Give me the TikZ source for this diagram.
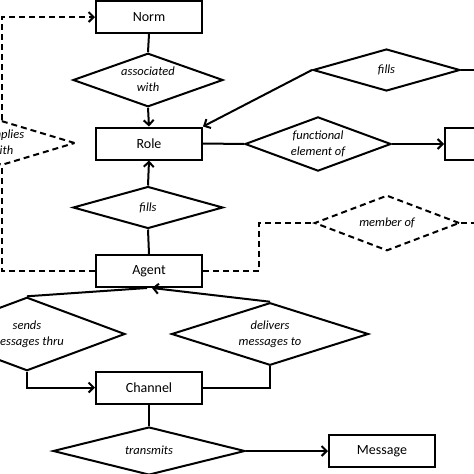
\documentclass[tikz,border=0pt]{standalone}
\usepackage{fontspec}
\setmainfont{Carlito}
\usetikzlibrary{shapes.geometric,arrows.meta}
\newcommand{\reltext}[1]{\smash{\raisebox{-3.5pt}{\begin{tabular}{@{}c@{}}#1\end{tabular}}}}
\begin{document}
\begin{tikzpicture}[x=1pt,y=-1pt,line width=2pt,
  entity/.style={draw,rectangle,minimum width=106,minimum height=32,inner sep=0pt,font=\fontsize{14}{16}\selectfont},
  relation/.style={draw,diamond,inner sep=0pt,minimum height=42,font=\fontsize{12.5}{16}\selectfont\itshape},
  link/.style={dash pattern=on 6pt off 4pt},
  arr/.style={-{Straight Barb[length=5pt,width=10pt]}}]
\useasboundingbox (0,0) rectangle (474,474);
\node[entity] (norm) at (149,17) {Norm};
\node[entity] (role) at (149,143.5) {Role};
\node[entity] (agent) at (149,271) {Agent};
\node[entity] (channel) at (149,387.5) {Channel};
\node[entity] (message) at (382,451) {Message};
\node[entity] (group) at (498,144) {};
\node[relation,minimum width=150] (assoc) at (148,80) {\reltext{associated\\with}};
\node[relation,minimum width=150] (fillsrole) at (148,207.5) {\reltext{fills}};
\node[relation,minimum width=147] (fillsgroup) at (386.5,70) {\reltext{fills}};
\node[relation,minimum width=146] (funcel) at (318,144) {\reltext{functional\\element of}};
\node[relation,link,minimum width=145] (member) at (387,223) {\reltext{member of}};
\node[relation,link,minimum width=146] (complies) at (2,143) {\reltext{complies\\with}};
\node[relation,minimum width=196] (sends) at (27,334) {\reltext{sends\\messages thru}};
\node[relation,minimum width=197] (delivers) at (270,334) {\reltext{delivers\\messages to}};
\node[relation,minimum width=192] (transmits) at (149,451) {\reltext{transmits}};
\draw (norm.south) -- (assoc.north);
\draw[arr] (assoc.south) -- (role.north);
\draw[arr] (fillsrole.north) -- (role.south);
\draw (fillsrole.south) -- (agent.north);
\draw[arr] (fillsgroup.west) -- (role.north east);
\draw (fillsgroup.east) -| (group.north);
\draw (role.east) -- (funcel.west);
\draw[arr] (funcel.east) -- (group.west);
\draw[link] (agent.east) -- ++(56,0) |- (member.west);
\draw[link] (member.east) -| (group.south);
\draw[link] (agent.west) -| (complies.south);
\draw[link,arr] (complies.north) |- (norm.west);
\draw (sends.north) -- ([xshift=-2pt]agent.south);
\draw[arr] (delivers.north) -- ([xshift=3pt]agent.south);
\draw[arr] (sends.south) |- (channel.west);
\draw (channel.east) -| (delivers.south);
\draw (channel.south) -- (transmits.north);
\draw[arr] (transmits.east) -- (message.west);
\end{tikzpicture}
\end{document}
